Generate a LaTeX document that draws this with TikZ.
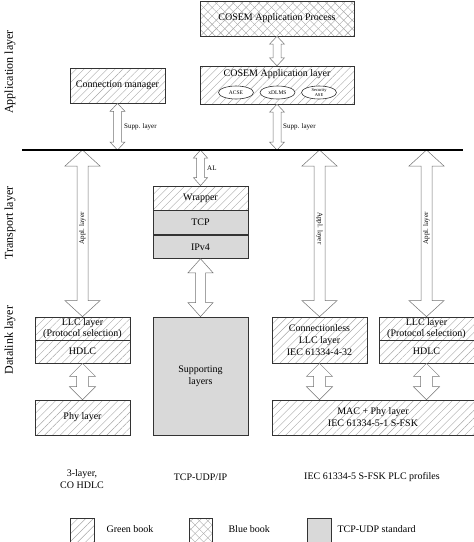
\documentclass[tikz,border=0pt]{standalone}
\usepackage{fontspec}
\setmainfont{Liberation Serif}
\usetikzlibrary{calc,positioning,patterns.meta,shapes.geometric}

\tikzset{
  layerbox/.style={draw=black!80, line width=.7pt, minimum width=95pt, align=center,
    inner sep=1pt, font=\fontsize{10}{12}\selectfont},
  greenbook/.style={layerbox, pattern={Lines[angle=45,distance=5.5pt,line width=.4pt]},
    pattern color=black!35},
  bluebook/.style={layerbox,
    preaction={pattern={Lines[angle=45,distance=6pt,line width=.4pt]}, pattern color=black!35},
    pattern={Lines[angle=-45,distance=6pt,line width=.4pt]}, pattern color=black!35},
  tcpudp/.style={layerbox, fill=black!15},
  service/.style={ellipse, draw=black!80, fill=white, line width=.6pt, minimum width=35pt,
    minimum height=13pt, inner sep=0pt, align=center},
  arrowline/.style={draw=black!55, line width=.5pt, fill=white},
  tinytext/.style={font=\fontsize{7}{8}\selectfont, inner sep=0pt},
  sidetext/.style={rotate=90, font=\fontsize{12}{14}\selectfont},
  plaintext/.style={font=\fontsize{10}{12}\selectfont, align=center, inner sep=0pt},
}

% hollow double block arrow: top point, bottom point, half shaft, half head, head length
\newcommand{\blockarrow}[5]{%
  \draw[arrowline] let \p1=(#1), \p2=(#2) in
    (\x1,\y1) -- (\x1+#4,\y1-#5) -- (\x1+#3,\y1-#5) -- (\x1+#3,\y2+#5)
    -- (\x1+#4,\y2+#5) -- (\x1,\y2) -- (\x1-#4,\y2+#5) -- (\x1-#3,\y2+#5)
    -- (\x1-#3,\y1-#5) -- (\x1-#4,\y1-#5) -- cycle;}

\begin{document}
\begin{tikzpicture}[x=1pt,y=-1pt]
  \useasboundingbox (0,0) rectangle (474,542);

  % layer names
  \node[sidetext] (lapp) at (10,72) {Application layer};
  \node[sidetext] (ltrans) at (10,223) {Transport layer};
  \node[sidetext] (llink) at (10,340) {Datalink layer};

  % application layer
  \node[bluebook, minimum width=154pt, minimum height=35pt] (ap) at (277,18.5) {COSEM Application Process};
  \node[greenbook, minimum width=154pt, minimum height=38pt] (al) at (277,85) {};
  \node[plaintext, below=4pt of al.north] (altitle) {COSEM Application layer};
  \node[service, font=\fontsize{5.5}{6}\selectfont] (acse) at (236,92.5) {ACSE};
  \node[service, font=\fontsize{5.5}{6}\selectfont] (xdlms) at (277.5,92.5) {xDLMS};
  \node[service, font=\fontsize{4.5}{5}\selectfont] (sase) at (319,92.5) {Security\\ASE};
  \node[greenbook, minimum height=35pt] (cm) at (117.5,85.5) {Connection manager};

  % transport layer
  \node[greenbook, minimum height=24pt] (wrap) at (200.5,198) {Wrapper};
  \node[tcpudp, minimum height=24pt, below=0pt of wrap] (tcp) {TCP};
  \node[tcpudp, minimum height=23pt, below=0pt of tcp] (ipv4) {IPv4};

  % datalink layer
  \node[greenbook, minimum height=23pt, font=\fontsize{10}{11.5}\selectfont] (llcL) at (82.5,328.5) {LLC layer\\(Protocol selection)};
  \node[greenbook, minimum height=23pt] (hdlcL) at (82.5,351.5) {HDLC};
  \node[greenbook, minimum height=35pt] (phyL) at (82.5,417.5) {Phy layer};
  \node[tcpudp, minimum height=118pt] (supp) at (200.5,376) {Supporting\\layers};
  \node[greenbook, minimum height=46pt] (cl) at (319.5,340) {Connectionless\\LLC layer\\IEC 61334-4-32};
  \node[greenbook, minimum height=23pt, font=\fontsize{10}{11.5}\selectfont] (llcR) at (426.5,328.5) {LLC layer\\(Protocol selection)};
  \node[greenbook, minimum height=23pt] (hdlcR) at (426.5,351.5) {HDLC};
  \node[greenbook, minimum width=202pt, minimum height=35pt] (mac) at (373,417.5) {MAC + Phy layer\\IEC 61334-5-1 S-FSK};

  % bus
  \coordinate (busL) at (22,150);
  \coordinate (busR) at (463,150);

  % arrows
  \blockarrow{ap.south}{al.north}{4pt}{7.5pt}{8pt}
  \blockarrow{cm.south}{cm.south |- busL}{4pt}{7.5pt}{8pt}
  \blockarrow{al.south}{al.south |- busL}{4pt}{7.5pt}{8pt}
  \blockarrow{wrap.north |- busL}{wrap.north}{4pt}{7pt}{8pt}
  \blockarrow{ipv4.south}{supp.north}{5pt}{12.5pt}{14pt}
  \blockarrow{llcL.north |- busL}{llcL.north}{5.5pt}{17.5pt}{16pt}
  \blockarrow{cl.north |- busL}{cl.north}{5.5pt}{17.5pt}{16pt}
  \blockarrow{llcR.north |- busL}{llcR.north}{5.5pt}{17.5pt}{16pt}
  \blockarrow{hdlcL.south}{phyL.north}{6pt}{13pt}{13pt}
  \blockarrow{cl.south}{cl.south |- mac.north}{6pt}{13pt}{13pt}
  \blockarrow{hdlcR.south}{hdlcR.south |- mac.north}{6pt}{13pt}{13pt}

  \draw[line width=2.5pt] (busL) -- (busR);

  % arrow labels
  \path (cm.south) -- (cm.south |- busL) node[tinytext, midway, right=6.5pt] {Supp. layer};
  \path (al.south) -- (al.south |- busL) node[tinytext, midway, right=6pt] {Supp. layer};
  \path (wrap.north |- busL) -- (wrap.north) node[tinytext, midway, right=6.5pt] {AL};
  \path (llcL.north |- busL) -- (llcL.north) node[tinytext, pos=.47, rotate=90] {Appl. layer};
  \path (cl.north |- busL) -- (cl.north) node[tinytext, pos=.47, rotate=-90] {Appl. layer};
  \path (llcR.north |- busL) -- (llcR.north) node[tinytext, pos=.47, rotate=90] {Appl. layer};

  % profiles
  \node[plaintext] (prof1) at (82,479.5) {3-layer,\\CO HDLC};
  \node[plaintext] (prof2) at (200.5,477) {TCP-UDP/IP};
  \node[plaintext] (prof3) at (372,477) {IEC 61334-5 S-FSK PLC profiles};

  % legend
  \node[greenbook, minimum width=24pt, minimum height=28pt] (lgreen) at (82,532) {};
  \node[plaintext, right=12pt of lgreen, yshift=3pt] (tgreen) {Green book};
  \node[bluebook, minimum width=23pt, minimum height=28pt] (lblue) at (200.5,532) {};
  \node[plaintext, right=16pt of lblue, yshift=3pt] (tblue) {Blue book};
  \node[tcpudp, minimum width=24pt, minimum height=28pt] (lgray) at (319,532) {};
  \node[plaintext, right=6pt of lgray, yshift=3pt] (tgray) {TCP-UDP standard};
\end{tikzpicture}
\end{document}
